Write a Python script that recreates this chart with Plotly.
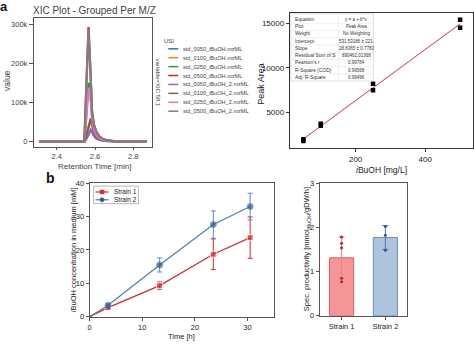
import plotly.graph_objects as go

W, H = 474, 346
def px(x): return x / W
def py(y): return 1 - y / H

FONT = "Arial, Liberation Sans, sans-serif"

# ---------------- Panel a (left): XIC plot ----------------
xic_time = [2.31, 2.544, 2.552, 2.560, 2.566, 2.572, 2.578, 2.585, 2.595, 2.607, 2.622, 2.64, 2.665, 2.70, 2.87]
xic_names = ["std_0050_iBuOH.mzML", "std_0100_iBuOH.mzML", "std_0250_iBuOH.mzML", "std_0500_iBuOH.mzML",
             "std_0050_iBuOH_2.mzML", "std_0100_iBuOH_2.mzML", "std_0250_iBuOH_2.mzML", "std_0500_iBuOH_2.mzML"]
xic_colors = ["#1f77b4", "#ff7f0e", "#2ca02c", "#d62728", "#9467bd", "#8c564b", "#e377c2", "#7f7f7f"]
xic_0050 = [0, 0, 5000, 11000, 17000, 24000, 30000, 26000, 14000, 7500, 4000, 1900, 700, 100, 0]
xic_0100 = [0, 0, 12000, 28000, 42000, 55000, 60000, 44000, 22000, 12000, 6500, 3000, 1100, 200, 0]
xic_0250 = [0, 0, 50000, 115000, 145000, 150000, 110000, 60000, 30000, 16000, 8500, 4000, 1500, 300, 0]
xic_0500 = [0, 0, 110000, 240000, 293000, 230000, 140000, 75000, 42000, 25000, 13000, 6000, 2500, 500, 0]
xic_0050_2 = [0, 0, 5000, 10000, 16000, 23000, 29000, 24000, 13000, 7000, 3700, 1800, 600, 100, 0]
xic_0100_2 = [0, 0, 11000, 26000, 40000, 52000, 57000, 42000, 21000, 11500, 6000, 2800, 1000, 200, 0]
xic_0250_2 = [0, 0, 45000, 105000, 135000, 135000, 100000, 55000, 28000, 15000, 8000, 3700, 1400, 300, 0]
xic_0500_2 = [0, 0, 105000, 232000, 288000, 225000, 135000, 72000, 40000, 24000, 12500, 5800, 2400, 500, 0]
xic_series = [xic_0050, xic_0100, xic_0250, xic_0500, xic_0050_2, xic_0100_2, xic_0250_2, xic_0500_2]

# ---------------- Panel a (right): calibration ----------------
cal_conc = [50, 50, 100, 100, 250, 250, 500, 500]
cal_area = [1750, 1950, 3450, 3700, 7450, 8200, 14500, 15400]
fit_conc = [50, 500]
fit_area = [1973, 14950]
table_labels = ["Equation", "Plot", "Weight", "Intercept", "Slope", "Residual Sum of S",
                "Pearson's r", "R-Square (COD)", "Adj. R-Square"]
table_values = ["y = a + b*x", "Peak Area", "No Weighting", "531.53186 ± 221.", "28.8365 ± 0.7783",
                "890462.01368", "0.99784", "0.99568", "0.99496"]

# ---------------- Panel b (left): time course ----------------
time_h = [0, 3.5, 13.3, 23.5, 30.5]
strain1_conc = [0, 2.7, 9.3, 18.7, 23.7]
strain1_err = [0, 0.3, 1.1, 4.6, 6.2]
strain2_conc = [0, 3.4, 15.5, 27.6, 33.0]
strain2_err = [0, 0.4, 2.1, 4.1, 4.0]

# ---------------- Panel b (right): productivity ----------------
strains = ["Strain 1", "Strain 2"]
prod_mean = [1.31, 1.77]
prod_err = [0.47, 0.27]
prod_pts_s1 = [1.78, 1.64, 1.54, 0.85, 0.77]
prod_pts_s2 = [2.02, 1.82, 1.48]

RED = "#e3262b"
BLUE_L = "#4d7db3"
BLUE_M = "#2e5a8a"

fig = go.Figure()

for name, col, vals in zip(xic_names, xic_colors, xic_series):
    fig.add_trace(go.Scatter(x=xic_time, y=vals, mode="lines", line=dict(color=col, width=2.2),
                             name=name, showlegend=False, xaxis="x", yaxis="y"))

fig.add_trace(go.Scatter(x=fit_conc, y=fit_area, mode="lines", line=dict(color="#e8333b", width=1),
                         showlegend=False, xaxis="x2", yaxis="y2"))
fig.add_trace(go.Scatter(x=cal_conc, y=cal_area, mode="markers",
                         marker=dict(symbol="square", size=4.5, color="black"),
                         showlegend=False, xaxis="x2", yaxis="y2"))

fig.add_trace(go.Scatter(x=time_h, y=strain1_conc, mode="lines+markers", name="Strain 1",
                         line=dict(color=RED, width=1.2),
                         marker=dict(symbol="square", size=[0, 6, 6, 6, 6], color=RED),
                         error_y=dict(type="data", array=strain1_err, color=RED, thickness=1, width=2.5),
                         showlegend=False, xaxis="x3", yaxis="y3"))
fig.add_trace(go.Scatter(x=time_h, y=strain2_conc, mode="lines+markers", name="Strain 2",
                         line=dict(color=BLUE_L, width=1.2),
                         marker=dict(symbol="circle", size=[0, 6, 6, 6, 6], color=BLUE_M),
                         error_y=dict(type="data", array=strain2_err, color="#5f8cc0", thickness=1, width=2.5),
                         showlegend=False, xaxis="x3", yaxis="y3"))

bar_fill = ["rgba(244,130,134,0.85)", "rgba(160,184,214,0.85)"]
bar_edge = ["#e85a60", "#6f8fb8"]
bar_err_col = ["#e8828a", "#4f77a6"]
for i in range(2):
    fig.add_trace(go.Bar(x=[strains[i]], y=[prod_mean[i]], width=0.55,
                         marker=dict(color=bar_fill[i], line=dict(color=bar_edge[i], width=1)),
                         error_y=dict(type="data", array=[prod_err[i]], color=bar_err_col[i], thickness=1, width=3),
                         showlegend=False, xaxis="x4", yaxis="y4"))
fig.add_trace(go.Scatter(x=[strains[0]] * len(prod_pts_s1), y=prod_pts_s1, mode="markers",
                         marker=dict(size=3, color="#c0262b"), showlegend=False, xaxis="x4", yaxis="y4"))
fig.add_trace(go.Scatter(x=[strains[1]] * len(prod_pts_s2), y=prod_pts_s2, mode="markers",
                         marker=dict(size=3, color="#2e5a8a"), showlegend=False, xaxis="x4", yaxis="y4"))

def ax(**kw):
    d = dict(showgrid=False, zeroline=False, showline=True, mirror=True, linewidth=1,
             ticks="outside", ticklen=3, tickwidth=1)
    d.update(kw)
    return d

GRAYF = "#555555"
DARK = "#333333"

fig.update_layout(
    width=W, height=H, margin=dict(l=0, r=0, t=0, b=0),
    paper_bgcolor="white", plot_bgcolor="white", barmode="overlay",
    font=dict(family=FONT, size=8, color="#222"),
    xaxis=ax(domain=[px(32), px(151)], range=[2.28, 2.9], anchor="y", dtick=0.2,
             linecolor=GRAYF, tickcolor=GRAYF, tickfont=dict(size=7.5, color="#444"), ticklen=2),
    yaxis=ax(domain=[py(147), py(14)], range=[-15000, 317000], anchor="x", dtick=100000,
             tickformat="~s", linecolor=GRAYF, tickcolor=GRAYF, tickfont=dict(size=7.5, color="#444"), ticklen=4),
    xaxis2=ax(domain=[px(289), px(473)], range=[11, 537], anchor="y2", tickvals=[200, 400],
              linecolor=DARK, tickcolor=DARK, tickfont=dict(size=8)),
    yaxis2=ax(domain=[py(148), py(9)], range=[935, 16200], anchor="x2", tickvals=[5000, 10000, 15000],
              tickformat="d", linecolor=DARK, tickcolor=DARK, tickfont=dict(size=8)),
    xaxis3=ax(domain=[px(88), px(273)], range=[0, 35], anchor="y3", dtick=10,
              linecolor=GRAYF, tickcolor=GRAYF, tickfont=dict(size=7.5)),
    yaxis3=ax(domain=[py(321), py(184)], range=[0, 40], anchor="x3", dtick=10,
              linecolor=GRAYF, tickcolor=GRAYF, tickfont=dict(size=7.5)),
    xaxis4=ax(domain=[px(319), px(407)], range=[-0.5, 1.5], anchor="y4", type="category",
              linecolor=GRAYF, tickcolor=GRAYF, tickfont=dict(size=7.5)),
    yaxis4=ax(domain=[py(320), py(184)], range=[0, 3], anchor="x4", dtick=1,
              linecolor=GRAYF, tickcolor=GRAYF, tickfont=dict(size=7.5)),
)

ann = []
shapes = []

def A(x, y, text, size=8, xanchor="center", color="#222", angle=0, **kw):
    ann.append(dict(x=px(x), y=py(y), xref="paper", yref="paper", text=text, showarrow=False,
                    xanchor=xanchor, yanchor="middle", textangle=angle,
                    font=dict(size=size, color=color, family=FONT), **kw))

# panel labels
A(2, 3, "<b>a</b>", size=13, xanchor="center", color="#111")
A(49, 179, "<b>b</b>", size=14, xanchor="center", color="#111")

# panel a-left texts
A(29, 7, "XIC Plot - Grouped Per M/Z", size=10, xanchor="left", color="#444")
A(5, 78, "value", size=8.5, angle=-90, color="#444")
A(93, 166.5, "Retention Time [min]", size=8, color="#444")
A(157, 81, "variable=XIC 58.1", size=6, angle=90, color="#444")
A(161, 38, "USI", size=6, xanchor="left", color="#444")
for i, (name, col) in enumerate(zip(xic_names, xic_colors)):
    yy = 46 + 9.15 * i
    shapes.append(dict(type="line", xref="paper", yref="paper", x0=px(167), x1=px(177), y0=py(yy), y1=py(yy),
                       line=dict(color=col, width=1.5)))
    A(179.5, yy, name, size=5.6, xanchor="left", color="#444")

# panel a-right texts
A(260, 82, "Peak Area", size=9, angle=-90)
A(381, 170, "<i>i</i>BuOH [mg/L]", size=8.5)
shapes.append(dict(type="rect", xref="paper", yref="paper", x0=px(290), x1=px(373), y0=py(79), y1=py(10),
                   fillcolor="white", line=dict(color="#cccccc", width=0.6), layer="above"))
for i in range(1, 9):
    yb = 12.5 + 7.4 * i
    shapes.append(dict(type="line", xref="paper", yref="paper", x0=px(290), x1=px(373), y0=py(yb), y1=py(yb),
                       line=dict(color="#e2e2e2", width=0.5), layer="above"))
shapes.append(dict(type="line", xref="paper", yref="paper", x0=px(338), x1=px(338), y0=py(79), y1=py(10),
                   line=dict(color="#e2e2e2", width=0.5), layer="above"))
for i, (lab, val) in enumerate(zip(table_labels, table_values)):
    yy = 16 + 7.4 * i
    A(292, yy, lab, size=4.9, xanchor="left", color="#333")
    A(356, yy, val, size=4.5, xanchor="center", color="#333")

# panel b-left texts
A(72, 252, "<i>i</i>BuOH concentration in medium [mM]", size=7.5, angle=-90)
A(180, 341, "Time [h]", size=7.5)
shapes.append(dict(type="rect", xref="paper", yref="paper", x0=px(92), x1=px(137), y0=py(205), y1=py(187),
                   fillcolor="white", line=dict(color="#888888", width=0.6), layer="above"))
shapes.append(dict(type="line", xref="paper", yref="paper", x0=px(94), x1=px(107), y0=py(193), y1=py(193),
                   line=dict(color=RED, width=1.2), layer="above"))
shapes.append(dict(type="rect", xref="paper", yref="paper", x0=px(98.5), x1=px(102.5), y0=py(195), y1=py(191),
                   fillcolor=RED, line=dict(color=RED, width=0.5), layer="above"))
shapes.append(dict(type="line", xref="paper", yref="paper", x0=px(94), x1=px(107), y0=py(201), y1=py(201),
                   line=dict(color=BLUE_L, width=1.2), layer="above"))
shapes.append(dict(type="circle", xref="paper", yref="paper", x0=px(98.3), x1=px(102.7), y0=py(203.2), y1=py(198.8),
                   fillcolor=BLUE_M, line=dict(color=BLUE_M, width=0.5), layer="above"))
A(110, 193, "Strain 1", size=6.5, xanchor="left")
A(110, 201, "Strain 2", size=6.5, xanchor="left")

# panel b-right texts
A(307, 252, "Spec. productivity [mmol<sub><i>i</i>BuOH</sub>/gDW/h]", size=7.5, angle=-90)

fig.update_layout(annotations=ann, shapes=shapes)
fig.write_html("out.html")
